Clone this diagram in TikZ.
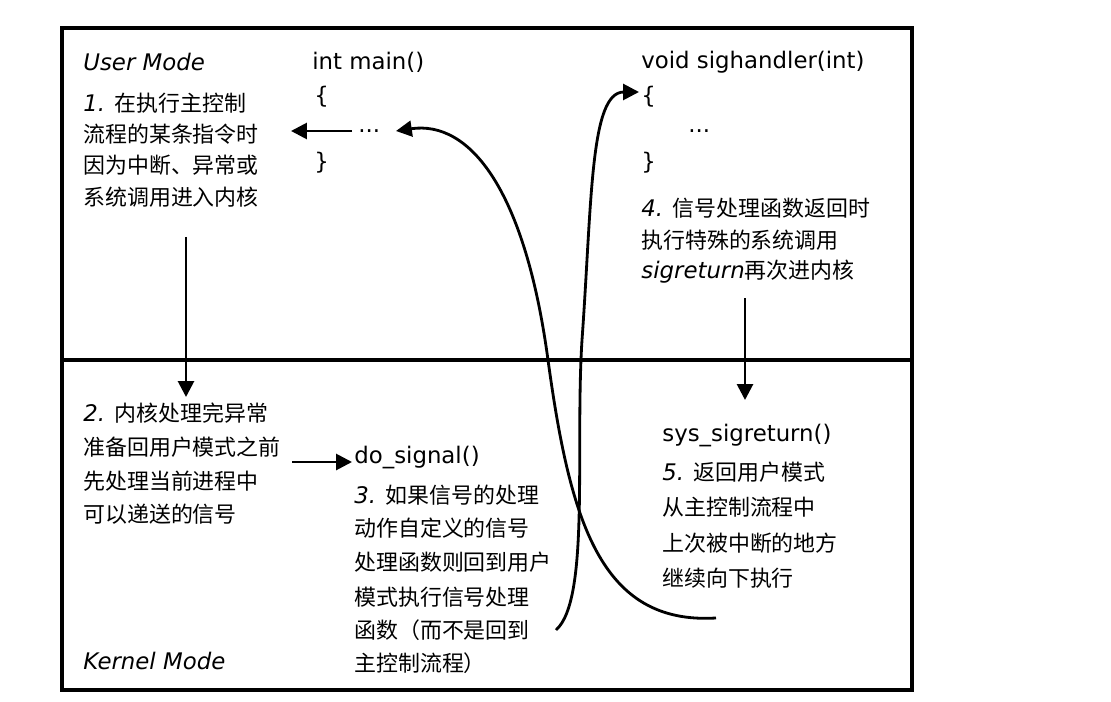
\documentclass[tikz,border=0pt]{standalone}
\usepackage{fontspec}
\setmainfont{DejaVu Sans}
\newfontfamily\cjk[Scale=0.96]{Noto Sans CJK SC}
\usetikzlibrary{arrows.meta}
\begin{document}
\begin{tikzpicture}[x=0.02cm,y=-0.02cm,
  txt/.style={anchor=west,inner sep=0pt,font=\fontsize{13pt}{17pt}\selectfont,align=left},
  arr/.style={line width=1.6pt,-{Triangle[length=9pt,width=9pt]}},
  frame/.style={line width=1.8pt}]
\useasboundingbox (0,0) rectangle (1111,702);
\draw[frame] (62,28) rectangle (912,690);
\draw[frame] (62,360) -- (912,360);
% user mode
\node[txt] (um) at (83,62) {\itshape User Mode};
\node[txt] (t1a) at (83,103) {\itshape 1. \upshape\cjk 在执行主控制};
\node[txt] (t1b) at (83,134) {\cjk 流程的某条指令时};
\node[txt] (t1c) at (83,165) {\cjk 因为中断、异常或};
\node[txt] (t1d) at (83,197) {\cjk 系统调用进入内核};
\node[txt] (main) at (312,62) {int main()};
\node[txt] (mb1) at (314,97) {\{};
\node[txt] (mdots) at (358,131) {...};
\node[txt] (mb2) at (314,163) {\}};
\node[txt] (sh) at (641,62) {void sighandler(int)};
\node[txt] (sb1) at (641,97) {\{};
\node[txt] (sdots) at (688,131) {...};
\node[txt] (sb2) at (641,163) {\}};
\node[txt] (t4a) at (641,208) {\itshape 4. \upshape\cjk 信号处理函数返回时};
\node[txt] (t4b) at (641,240) {\cjk 执行特殊的系统调用};
\node[txt] (t4c) at (641,272) {\itshape sigreturn\upshape\cjk 再次进内核};
% kernel mode
\node[txt] (t2a) at (83,413) {\itshape 2. \upshape\cjk 内核处理完异常};
\node[txt] (t2b) at (83,447) {\cjk 准备回用户模式之前};
\node[txt] (t2c) at (83,481) {\cjk 先处理当前进程中};
\node[txt] (t2d) at (83,514) {\cjk 可以递送的信号};
\node[txt] (ds) at (354,458) {do\_signal()};
\node[txt] (t3a) at (354,495) {\itshape 3. \upshape\cjk 如果信号的处理};
\node[txt] (t3b) at (354,528) {\cjk 动作自定义的信号};
\node[txt] (t3c) at (354,562) {\cjk 处理函数则回到用户};
\node[txt] (t3d) at (354,597) {\cjk 模式执行信号处理};
\node[txt] (t3e) at (354,630) {\cjk 函数（而不是回到};
\node[txt] (t3f) at (354,663) {\cjk 主控制流程）};
\node[txt] (ssr) at (662,436) {sys\_sigreturn()};
\node[txt] (t5a) at (662,472) {\itshape 5. \upshape\cjk 返回用户模式};
\node[txt] (t5b) at (662,507) {\cjk 从主控制流程中};
\node[txt] (t5c) at (662,543) {\cjk 上次被中断的地方};
\node[txt] (t5d) at (662,578) {\cjk 继续向下执行};
\node[txt] (km) at (83,661) {\itshape Kernel Mode};
% arrows
\coordinate (a1s) at (352,131); \coordinate (a1e) at (291,131);
\draw[arr] (a1s) -- (a1e);
\coordinate (a2s) at (186,237); \coordinate (a2e) at (186,397);
\draw[arr] (a2s) -- (a2e);
\coordinate (a3s) at (292,462); \coordinate (a3e) at (352,462);
\draw[arr] (a3s) -- (a3e);
\coordinate (a4s) at (745,298); \coordinate (a4e) at (745,400);
\draw[arr] (a4s) -- (a4e);
\coordinate (c1s) at (556,630); \coordinate (c1e) at (639,92);
\draw[arr] (c1s) .. controls (590,600) and (575,450) .. (582,340)
  .. controls (592,200) and (590,92) .. (c1e);
\coordinate (c2s) at (716,618); \coordinate (c2e) at (396,131);
\draw[arr] (c2s) .. controls (600,625) and (570,520) .. (548,360)
  .. controls (525,190) and (470,120) .. (c2e);
\end{tikzpicture}
\end{document}
